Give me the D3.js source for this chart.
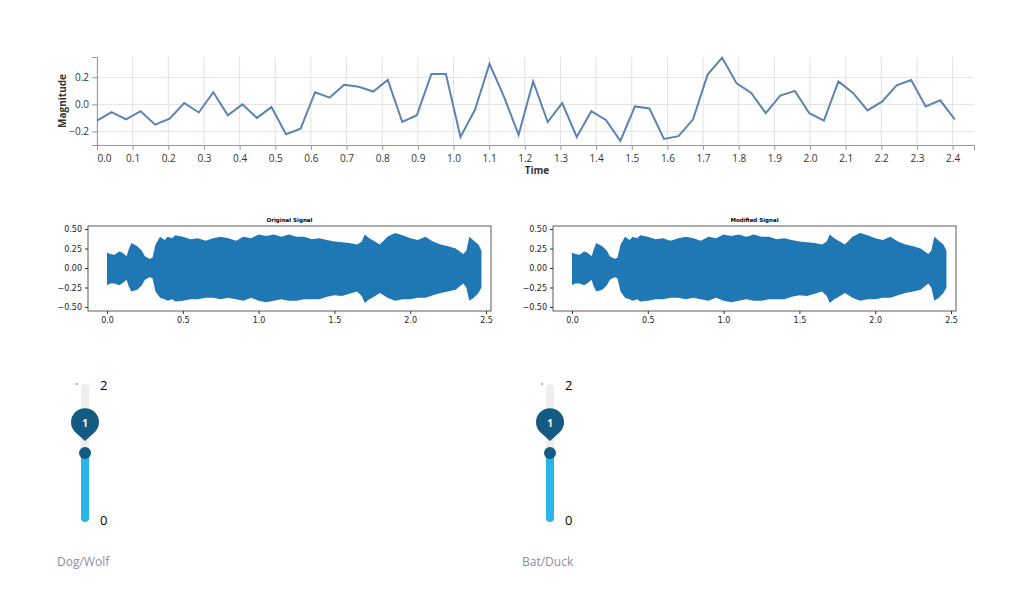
<!DOCTYPE html>
<html><head><meta charset="utf-8">
<script src="https://cdn.jsdelivr.net/npm/d3@7"></script>
<style>body{margin:0;background:#fff;font-family:"Open Sans","Noto Sans",sans-serif}</style>
</head><body><svg id="c" width="1028" height="592"></svg>
<script>
const magnitude=[-0.12,-0.057,-0.11,-0.05,-0.15,-0.105,0.01,-0.06,0.09,-0.08,0.0,-0.1,-0.02,-0.22,-0.18,0.09,0.05,0.145,0.13,0.095,0.18,-0.13,-0.08,0.225,0.225,-0.24,-0.04,0.3,0.055,-0.225,0.17,-0.13,0.01,-0.24,-0.05,-0.115,-0.27,-0.015,-0.03,-0.255,-0.235,-0.11,0.22,0.345,0.155,0.085,-0.065,0.065,0.1,-0.065,-0.12,0.17,0.085,-0.045,0.02,0.14,0.18,-0.015,0.03,-0.11];
const timeStep=2.406/59;
const xTicks=d3.range(0,25).map(i=>i/10);
const yTicks=[-0.2,0,0.2];
const envT=[0,0.02,0.05,0.08,0.1,0.13,0.14,0.16,0.2,0.23,0.25,0.28,0.3,0.32,0.35,0.38,0.4,0.43,0.45,0.5,0.55,0.6,0.65,0.7,0.75,0.8,0.85,0.9,0.95,1.0,1.05,1.1,1.15,1.2,1.25,1.3,1.35,1.4,1.45,1.5,1.55,1.6,1.65,1.68,1.7,1.73,1.75,1.8,1.85,1.9,1.95,2.0,2.05,2.1,2.15,2.2,2.25,2.3,2.35,2.37,2.39,2.42,2.45,2.47];
const envTop=[0.2,0.18,0.17,0.21,0.2,0.15,0.22,0.32,0.28,0.22,0.15,0.12,0.13,0.3,0.4,0.36,0.4,0.38,0.42,0.4,0.37,0.38,0.35,0.38,0.4,0.38,0.35,0.4,0.38,0.43,0.41,0.43,0.4,0.43,0.4,0.4,0.37,0.38,0.36,0.34,0.33,0.32,0.3,0.34,0.43,0.38,0.36,0.3,0.4,0.45,0.42,0.38,0.36,0.4,0.34,0.3,0.28,0.25,0.18,0.22,0.4,0.35,0.3,0.22];
const envBot=[-0.22,-0.2,-0.2,-0.22,-0.2,-0.15,-0.22,-0.3,-0.28,-0.22,-0.15,-0.12,-0.13,-0.3,-0.38,-0.4,-0.42,-0.4,-0.43,-0.42,-0.4,-0.4,-0.38,-0.38,-0.4,-0.38,-0.4,-0.42,-0.38,-0.42,-0.44,-0.42,-0.4,-0.42,-0.42,-0.4,-0.4,-0.4,-0.37,-0.35,-0.36,-0.33,-0.3,-0.36,-0.45,-0.4,-0.38,-0.32,-0.38,-0.42,-0.4,-0.4,-0.38,-0.38,-0.35,-0.32,-0.3,-0.28,-0.2,-0.25,-0.42,-0.38,-0.32,-0.25];
const sigXTicks=[0,0.5,1.0,1.5,2.0,2.5];
const sigYTicks=[0.5,0.25,0,-0.25,-0.5];
const sliderNames=["Dog/Wolf","Bat/Duck"];
const sliderValues=[1,1];

const svg=d3.select("#c");
const x=d3.scaleLinear().domain([0,2.46]).range([97,974]);
const y=d3.scaleLinear().domain([-0.3,0.35]).range([145,57]);
const g=svg.append("g");
g.selectAll(".gx").data(xTicks).join("line").attr("x1",d=>x(d)).attr("x2",d=>x(d)).attr("y1",57).attr("y2",145).attr("stroke","#e2e2e2");
g.selectAll(".gy").data(yTicks).join("line").attr("x1",97).attr("x2",974).attr("y1",d=>y(d)).attr("y2",d=>y(d)).attr("stroke","#e2e2e2");
const xa=g.append("g").attr("transform","translate(0,145)").call(d3.axisBottom(x).tickValues(xTicks).tickFormat(d3.format(".1f")).tickSize(5));
const ya=g.append("g").attr("transform","translate(97,0)").call(d3.axisLeft(y).tickValues(yTicks).tickFormat(d3.format(".1f")).tickSize(5));
[xa,ya].forEach(a=>{a.selectAll("path,line").attr("stroke","#999");a.selectAll("text").attr("fill","#333").attr("font-size",10).attr("font-family","Open Sans");});
xa.selectAll("text").attr("dy","0.9em").filter(d=>d===0).attr("text-anchor","start");
g.append("path").datum(magnitude).attr("fill","none").attr("stroke","#5b84b1").attr("stroke-width",2)
 .attr("d",d3.line().x((d,i)=>x(i*timeStep)).y(d=>y(d)));
g.append("text").attr("x",537).attr("y",174).attr("text-anchor","middle").attr("font-size",10).attr("font-weight","bold").attr("fill","#333").text("Time");
g.append("text").attr("transform","translate(66,101) rotate(-90)").attr("text-anchor","middle").attr("font-size",10).attr("font-weight","bold").attr("fill","#333").text("Magnitude");

function sig(x0,x1,title){
  const sx=d3.scaleLinear().domain([0,2.5]).range([x0+19,x1-5]);
  const sy=d3.scaleLinear().domain([-0.5,0.5]).range([307,229]);
  const s=svg.append("g");
  s.append("path").datum(envT.map((t,i)=>[t,envTop[i],envBot[i]])).attr("fill","#1f77b4")
   .attr("d",d3.area().x(d=>sx(d[0])).y0(d=>sy(d[2])).y1(d=>sy(d[1])));
  s.append("rect").attr("x",x0).attr("y",226).attr("width",x1-x0).attr("height",85).attr("fill","none").attr("stroke","#333").attr("stroke-width",0.8);
  const ax=s.append("g").attr("transform","translate(0,311)").call(d3.axisBottom(sx).tickValues(sigXTicks).tickFormat(d3.format(".1f")).tickSize(3).tickSizeOuter(0));
  const ay=s.append("g").attr("transform",`translate(${x0},0)`).call(d3.axisLeft(sy).tickValues(sigYTicks).tickFormat(d3.format(".2f")).tickSize(3).tickSizeOuter(0));
  [ax,ay].forEach(a=>{a.select(".domain").remove();a.selectAll("line").attr("stroke","#333");a.selectAll("text").attr("font-size",8).attr("fill","#222").attr("font-family","DejaVu Sans");});
  ay.selectAll("text").text(d=>(d<0?"\u2212":"")+Math.abs(d).toFixed(2));
  s.append("text").attr("x",(x0+x1)/2).attr("y",222).attr("text-anchor","middle").attr("font-size",5.5).attr("font-weight","bold").attr("font-family","DejaVu Sans").attr("fill","#000").text(title);
}
sig(88,491,"Original Signal");
sig(553,956,"Modified Signal");

sliderNames.forEach((name,i)=>{
  const cx=[85,550][i];
  const sv=d3.scaleLinear().domain([0,2]).range([518,388]);
  const s=svg.append("g");
  s.append("line").attr("x1",cx).attr("x2",cx).attr("y1",sv(2)).attr("y2",sv(0)).attr("stroke","#eee").attr("stroke-width",8).attr("stroke-linecap","round");
  s.append("line").attr("x1",cx).attr("x2",cx).attr("y1",sv(sliderValues[i])).attr("y2",sv(0)).attr("stroke","#29b5e8").attr("stroke-width",8).attr("stroke-linecap","round");
  const ty=sv(sliderValues[i]);
  s.append("circle").attr("cx",cx).attr("cy",ty).attr("r",6).attr("fill","#155a82");
  s.append("path").attr("d",`M${cx-10},${ty-21} A14,14 0 1,1 ${cx+10},${ty-21} L${cx},${ty-12} Z`).attr("fill","#155a82");
  s.append("text").attr("x",cx).attr("y",ty-26).attr("text-anchor","middle").attr("font-size",10).attr("font-weight","bold").attr("fill","#fff").text(sliderValues[i]);
  s.append("circle").attr("cx",cx-8).attr("cy",384).attr("r",0.7).attr("fill","#228");
  s.append("text").attr("x",cx+15).attr("y",390).attr("font-size",13).attr("fill","#000").text("2");
  s.append("text").attr("x",cx+15).attr("y",525).attr("font-size",13).attr("fill","#000").text("0");
  s.append("text").attr("x",cx-28).attr("y",566).attr("font-size",12).attr("fill","#8a8fa0").text(name);
});
</script></body></html>
